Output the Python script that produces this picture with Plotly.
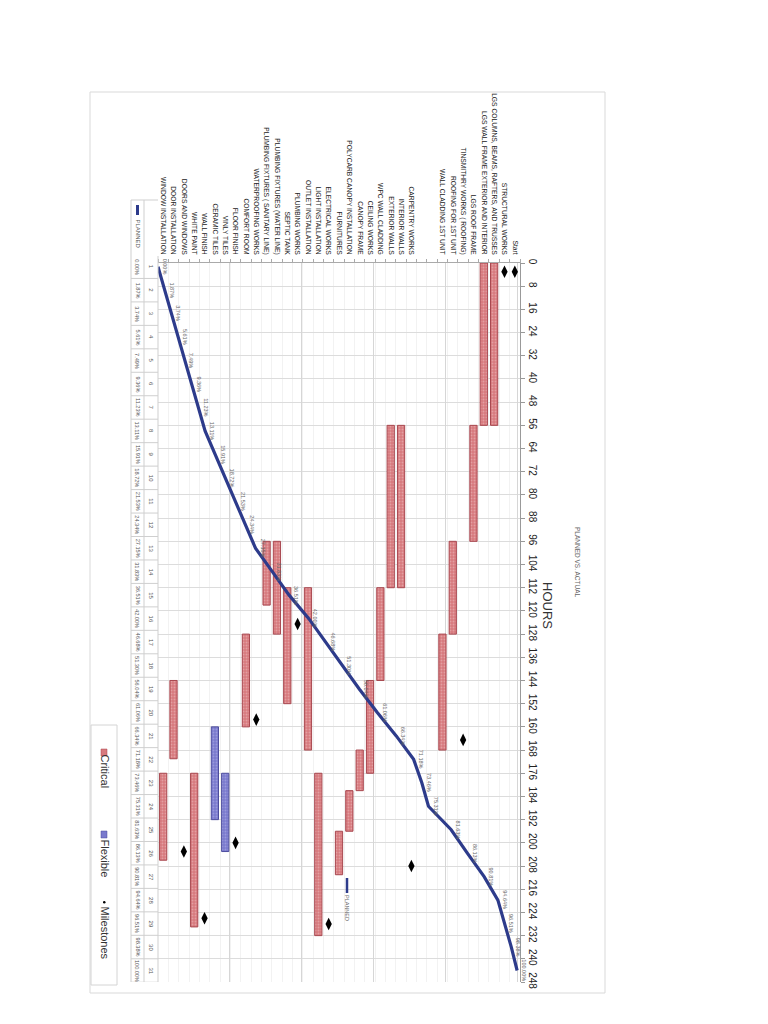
import plotly.graph_objects as go

# ---------------- data ----------------
tasks = ["Start", "STRUCTURAL WORKS", "LGS COLUMNS, BEAMS, RAFTERS, AND TRUSSES",
         "LGS WALL FRAME EXTERIOR AND INTERIOR", "LGS ROOF FRAME", "TINSMITHRY WORKS ( ROOFING)",
         "ROOFING FOR 1ST UNIT", "WALL CLADDING 1ST UNIT", " ", "  ", "CARPENTRY WORKS",
         "INTERIOR WALLS", "EXTERIOR WALLS", "WPC WALL CLADDING", "CEILING WORKS", "CANOPY FRAME",
         "POLYCARB CANOPY INSTALLATION", "FURNITURES", "ELECTRICAL WORKS", "LIGHT INSTALLATION",
         "OUTLET INSTALLATION", "PLUMBING WORKS", "SEPTIC TANK", "PLUMBING FIXTURES (WATER LINE)",
         "PLUMBING FIXTURES ( SANITARY LINE)", "WATERPROOFING WORKS", "COMFORT ROOM", "FLOOR FINISH",
         "VINLY TILES", "CERAMIC TILES", "WALL FINISH", "WHITE PAINT", "DOORS AND WINDOWS",
         "DOOR INSTALLATION", "WINDOW INSTALLATION"]

crit_tasks = ["LGS COLUMNS, BEAMS, RAFTERS, AND TRUSSES", "LGS WALL FRAME EXTERIOR AND INTERIOR",
              "LGS ROOF FRAME", "ROOFING FOR 1ST UNIT", "WALL CLADDING 1ST UNIT", "INTERIOR WALLS",
              "EXTERIOR WALLS", "WPC WALL CLADDING", "CEILING WORKS", "CANOPY FRAME",
              "POLYCARB CANOPY INSTALLATION", "FURNITURES", "LIGHT INSTALLATION", "OUTLET INSTALLATION",
              "SEPTIC TANK", "PLUMBING FIXTURES (WATER LINE)", "PLUMBING FIXTURES ( SANITARY LINE)",
              "COMFORT ROOM", "WHITE PAINT", "DOOR INSTALLATION", "WINDOW INSTALLATION"]
crit_start = [0, 0, 56, 96, 128, 56, 56, 112, 144, 168, 182, 196, 176, 112, 112, 96, 96, 128, 176, 144, 176]
crit_end = [56, 56, 96, 128, 168, 112, 112, 144, 176, 182, 196, 211, 232, 168, 152, 128, 118, 160, 229, 171, 206]

flex_tasks = ["CERAMIC TILES", "VINLY TILES"]
flex_start = [160, 176]
flex_end = [192, 203]

ms_tasks = ["Start", "STRUCTURAL WORKS", "TINSMITHRY WORKS ( ROOFING)", "CARPENTRY WORKS",
            "ELECTRICAL WORKS", "PLUMBING WORKS", "WATERPROOFING WORKS", "FLOOR FINISH",
            "WALL FINISH", "DOORS AND WINDOWS"]
ms_hours = [3, 3, 164.5, 208, 228, 124.5, 157.5, 200, 226, 203]

days = list(range(1, 32))
planned = [0.00, 1.87, 3.74, 5.61, 7.49, 9.36, 11.23, 13.11, 15.91, 18.72, 21.53, 24.34, 27.15,
           31.83, 36.51, 42.00, 46.68, 51.30, 56.04, 61.06, 66.34, 71.18, 73.46, 75.31, 81.63,
           86.13, 90.81, 94.64, 96.51, 98.38, 100.00]

hour_ticks = list(range(0, 249, 8))

# ---------------- geometry helpers (pixel -> paper) ----------------
W, H = 768, 1024
ML, MR, MT, MB = 120, 248, 263, 42
PW, PH = W - ML - MR, H - MT - MB


def fx(px):
    return (px - ML) / PW


def fy(py):
    return (H - MB - py) / PH


FONT = "Liberation Sans, Arial, sans-serif"
crit_fill, crit_line = "#d77a7e", "#a8474f"
flex_fill, flex_line = "#7a7acd", "#4d4d9e"
line_col = "#2d3b8b"


def note(**kw):
    d = dict(showarrow=False, xanchor="center", yanchor="middle", textangle=90)
    d.update(kw)
    return d


fig = go.Figure()

# invisible trace to register every category on the task axis
fig.add_trace(go.Scatter(x=tasks, y=[0] * len(tasks), mode="markers",
                         marker=dict(opacity=0), hoverinfo="skip", showlegend=False))

fig.add_trace(go.Bar(
    x=crit_tasks, y=[e - s for s, e in zip(crit_start, crit_end)], base=crit_start,
    width=0.7, name="Critical", showlegend=False,
    marker=dict(color=crit_fill, line=dict(color=crit_line, width=1),
                pattern=dict(shape=".", fgcolor="#f0c3c5", size=3, solidity=0.3)),
))
fig.add_trace(go.Bar(
    x=flex_tasks, y=[e - s for s, e in zip(flex_start, flex_end)], base=flex_start,
    width=0.7, name="Flexible", showlegend=False,
    marker=dict(color=flex_fill, line=dict(color=flex_line, width=1),
                pattern=dict(shape=".", fgcolor="#b8b8ea", size=3, solidity=0.3)),
))
fig.add_trace(go.Scatter(
    x=ms_tasks, y=ms_hours, mode="markers", name="Milestones", showlegend=False,
    marker=dict(symbol="diamond-tall", size=9, color="black"),
))
fig.add_trace(go.Scatter(
    x=planned, y=days, xaxis="x2", yaxis="y2", mode="lines", name="PLANNED",
    line=dict(color=line_col, width=3.2), showlegend=False,
))

annotations = []
shapes = []

# data labels for the planned line
for d, p in zip(days, planned):
    annotations.append(note(x=p, y=d, xref="x2", yref="y2", text=f"{p:.2f}%", xshift=7,
                            font=dict(size=5.5, color="#666", family=FONT)))

# data table under the plot (rotated: left side)
x_num, x_pct = 151, 137.5
for d, p in zip(days, planned):
    annotations.append(note(x=fx(x_num), y=d, xref="paper", yref="y2", text=str(d),
                            font=dict(size=6, color="#555", family=FONT)))
    annotations.append(note(x=fx(x_pct), y=d, xref="paper", yref="y2", text=f"{p:.2f}%",
                            font=dict(size=5.6, color="#555", family=FONT)))
tbl_col = "#cfcfcf"
for xv in (131, 144, 158):
    shapes.append(dict(type="line", xref="paper", yref="paper", x0=fx(xv), x1=fx(xv),
                       y0=fy(200) if xv != 158 else fy(256), y1=fy(982), line=dict(color=tbl_col, width=1)))
for d in days + [days[-1] + 1]:
    shapes.append(dict(type="line", xref="paper", yref="y2", x0=fx(131), x1=fx(158),
                       y0=d - 0.5, y1=d - 0.5, line=dict(color=tbl_col, width=1)))
shapes.append(dict(type="line", xref="paper", yref="paper", x0=fx(131), x1=fx(158),
                   y0=fy(200), y1=fy(200), line=dict(color=tbl_col, width=1)))
# legend key inside table header
shapes.append(dict(type="line", xref="paper", yref="paper", x0=fx(137.5), x1=fx(137.5),
                   y0=fy(205), y1=fy(215), line=dict(color=line_col, width=3)))
annotations.append(note(x=fx(137.5), y=fy(234), xref="paper", yref="paper", text="PLANNED",
                        font=dict(size=6, color="#555", family=FONT)))

# small in-plot legend for PLANNED
shapes.append(dict(type="line", xref="paper", yref="paper", x0=fx(347), x1=fx(347),
                   y0=fy(878), y1=fy(893), line=dict(color=line_col, width=2.5)))
annotations.append(note(x=fx(347), y=fy(908), xref="paper", yref="paper", text="PLANNED",
                        font=dict(size=5.5, color="#666", family=FONT)))

# bottom-left legend box
shapes.append(dict(type="rect", xref="paper", yref="paper", x0=fx(91), x1=fx(117),
                   y0=fy(985), y1=fy(725), line=dict(color="#d4d4d4", width=1)))
shapes.append(dict(type="rect", xref="paper", yref="paper", x0=fx(101), x1=fx(107),
                   y0=fy(756), y1=fy(749), fillcolor=crit_fill, line=dict(color=crit_line, width=0.5)))
shapes.append(dict(type="rect", xref="paper", yref="paper", x0=fx(101), x1=fx(107),
                   y0=fy(838), y1=fy(831), fillcolor=flex_fill, line=dict(color=flex_line, width=0.5)))
shapes.append(dict(type="circle", xref="paper", yref="paper", x0=fx(103), x1=fx(105.5),
                   y0=fy(903.5), y1=fy(901), fillcolor="black", line=dict(color="black", width=0)))
for txt, yc in (("Critical", 771), ("Flexible", 858), ("Milestones", 933)):
    annotations.append(note(x=fx(104.5), y=fy(yc), xref="paper", yref="paper", text=txt,
                            font=dict(size=11, color="#333", family=FONT)))

# titles
annotations.append(note(x=fx(548), y=fy(605), xref="paper", yref="paper", text="HOURS",
                        font=dict(size=13, color="#333", family=FONT)))
annotations.append(note(x=fx(578), y=fy(562), xref="paper", yref="paper", text="PLANNED VS. ACTUAL",
                        font=dict(size=6.5, color="#666", family=FONT)))

# outer chart border
shapes.append(dict(type="rect", xref="paper", yref="paper", x0=fx(90), x1=fx(605),
                   y0=fy(993), y1=fy(92), line=dict(color="#d9d9d9", width=1), layer="below"))

x_domain = [fx(158), 1]
fig.update_layout(
    width=W, height=H, margin=dict(l=ML, r=MR, t=MT, b=MB, pad=0),
    paper_bgcolor="white", plot_bgcolor="white", bargap=0.3, barmode="overlay",
    font=dict(family=FONT, color="#333"),
    xaxis=dict(domain=x_domain, type="category", categoryorder="array", categoryarray=tasks[::-1],
               range=[-0.5, len(tasks) - 0.5], side="top", anchor="y", tickangle=90,
               tickfont=dict(size=6.7, color="#222"), tickson="boundaries", ticks="outside",
               ticklen=3, tickcolor="#aaa", showline=True, linecolor="#aaa", linewidth=1,
               showgrid=True, gridcolor="#f2f2f2", ticklabelstandoff=5, fixedrange=True),
    yaxis=dict(domain=[0, 1], range=[248, 0], side="right", anchor="x", tickvals=hour_ticks,
               tickangle=90, tickfont=dict(size=10, color="#222"), ticks="outside", ticklen=4,
               tickcolor="#999", showline=True, linecolor="#999", linewidth=1, showgrid=True,
               gridcolor="#dcdcdc", zeroline=False),
    xaxis2=dict(overlaying="x", side="bottom", anchor="y", range=[0, 100.8], dtick=20,
                showgrid=True, gridcolor="#d6d6d6", showticklabels=False, ticks="", showline=False,
                zeroline=False),
    yaxis2=dict(overlaying="y", side="left", anchor="x", range=[31.49, 0.842], visible=False),
    annotations=annotations, shapes=shapes, showlegend=False,
)

fig.write_html("out.html")
